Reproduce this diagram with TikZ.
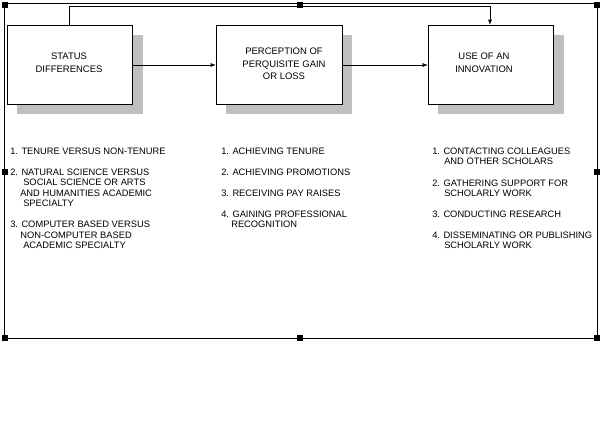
\documentclass[tikz,border=0pt]{standalone}
\usepackage{fontspec}
\setmainfont{Liberation Sans}
\begin{document}
\begin{tikzpicture}[x=0.75pt,y=-0.75pt,
  box/.style={draw,line width=0.6pt,fill=white},
  shadow/.style={fill=black!25},
  handle/.style={fill=black},
  lab/.style={font=\fontsize{7.1}{9.4}\selectfont,align=center},
  item/.style={anchor=west,inner sep=0,font=\fontsize{7}{8}\selectfont},
  conn/.style={line width=0.6pt,-{Latex[length=4pt,width=3pt]}}]
\usetikzlibrary{arrows.meta}
\useasboundingbox (0,0) rectangle (600,440);
\draw[line width=0.6pt] (4,3) rectangle (597,338);
\foreach \x/\y in {5/5,300/5,597/5,5/172,597/172,5/338,300/338,597/338}
  \fill (\x-3,\y-3) rectangle (\x+3,\y+3);
\foreach \a in {7,216,428}
  \fill[shadow] (\a+10,35) rectangle (\a+136,114);
\draw[box] (7,25) rectangle (132,104) node[midway] (b1) {};
\draw[box] (216,25) rectangle (342,104) node[midway] (b2) {};
\draw[box] (428,25) rectangle (553,104) node[midway] (b3) {};
\node[lab] (t1) at (69,63) {STATUS\\DIFFERENCES};
\node[lab] (t2) at (284,64) {PERCEPTION OF\\PERQUISITE GAIN\\OR LOSS};
\node[lab] (t3) at (484,63) {USE OF AN\\INNOVATION};
\coordinate (a1) at (132,65); \coordinate (a2) at (216,65);
\coordinate (a3) at (342,65); \coordinate (a4) at (428,65);
\draw[conn] (a1) -- (a2);
\draw[conn] (a3) -- (a4);
\coordinate (c1) at (69,25); \coordinate (c2) at (490,25);
\draw[conn] (c1) -- (69,6) -| (c2);
\foreach \x/\y/\t in {
 10/151/{1. TENURE VERSUS NON-TENURE},
 10/172/{2. NATURAL SCIENCE VERSUS},
 23/182/{SOCIAL SCIENCE OR ARTS},
 20/193/{AND HUMANITIES ACADEMIC},
 23/203/{SPECIALTY},
 10/224/{3. COMPUTER BASED VERSUS},
 20/235/{NON-COMPUTER BASED},
 23/245/{ACADEMIC SPECIALTY},
 221/151/{1. ACHIEVING TENURE},
 221/172/{2. ACHIEVING PROMOTIONS},
 221/193/{3. RECEIVING PAY RAISES},
 221/214/{4. GAINING PROFESSIONAL},
 231/224/{RECOGNITION},
 432/151/{1. CONTACTING COLLEAGUES},
 444/161/{AND OTHER SCHOLARS},
 432/183/{2. GATHERING SUPPORT FOR},
 444/193/{SCHOLARLY WORK},
 432/214/{3. CONDUCTING RESEARCH},
 432/235/{4. DISSEMINATING OR PUBLISHING},
 444/245/{SCHOLARLY WORK}}
 \node[item] at (\x,\y) {\t};
\end{tikzpicture}
\end{document}
